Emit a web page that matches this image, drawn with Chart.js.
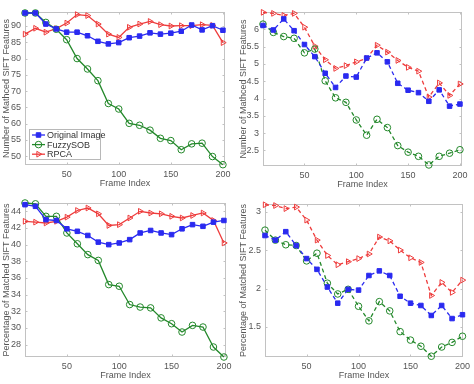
<!DOCTYPE html>
<html>
<head>
<meta charset="utf-8">
<script src="https://cdn.jsdelivr.net/npm/chart.js@4/dist/chart.umd.min.js"></script>
<style>
  body { margin: 0; background: #fff; width: 474px; height: 384px; overflow: hidden; position: relative; }
  .cell { position: absolute; width: 237px; height: 192px; }
</style>
</head>
<body>
<div class="cell" style="left:0;top:0"><canvas id="tl" width="237" height="192"></canvas></div>
<div class="cell" style="left:237px;top:0"><canvas id="tr" width="237" height="192"></canvas></div>
<div class="cell" style="left:0;top:192px"><canvas id="bl" width="237" height="192"></canvas></div>
<div class="cell" style="left:237px;top:192px"><canvas id="br" width="237" height="192"></canvas></div>
<script>
const frames = [10, 20, 30, 40, 50, 60, 70, 80, 90, 100, 110, 120, 130, 140, 150, 160, 170, 180, 190, 200];
const xTicks = [50, 100, 150, 200];
const seriesNames = ['Original Image', 'FuzzySOB', 'RPCA'];

// top left: number of matched features
const countOrig = [94.0, 94.0, 90.6, 89.1, 88.1, 88.1, 87.0, 85.3, 84.5, 84.9, 86.4, 86.9, 87.9, 87.5, 87.8, 88.4, 90.3, 88.8, 90.1, 88.7];
const countFuzzy = [94.0, 94.0, 91.1, 89.0, 85.8, 80.0, 76.8, 73.2, 66.2, 64.5, 60.1, 59.5, 58.0, 55.5, 54.8, 52.0, 53.8, 54.0, 49.9, 47.4];
const countRpca = [87.5, 89.3, 88.1, 89.2, 90.9, 93.5, 93.2, 90.6, 87.5, 86.5, 89.6, 90.6, 91.4, 90.4, 90.0, 90.1, 90.1, 90.4, 90.2, 84.9];
const countTicks = [50, 55, 60, 65, 70, 75, 80, 85, 90];

// top right
const countOrigR = [6.11, 5.98, 6.30, 5.96, 5.56, 5.21, 4.73, 4.32, 4.65, 4.62, 5.17, 5.32, 5.06, 4.44, 4.24, 4.17, 3.92, 4.25, 3.78, 3.84];
const countFuzzyR = [6.15, 5.91, 5.79, 5.74, 5.32, 5.43, 4.51, 4.02, 3.89, 3.38, 2.94, 3.40, 3.16, 2.64, 2.45, 2.33, 2.08, 2.33, 2.42, 2.52];
const countRpcaR = [6.49, 6.46, 6.40, 6.46, 6.06, 5.51, 5.12, 4.87, 4.95, 5.06, 5.16, 5.54, 5.34, 5.10, 4.90, 4.79, 4.04, 4.45, 4.09, 4.42];
const countTicksR = [2.5, 3, 3.5, 4, 4.5, 5, 5.5, 6];

// bottom left: percentage of matched features
const pctOrig = [44.8, 44.6, 43.0, 42.9, 41.9, 41.6, 41.1, 40.3, 40.0, 40.2, 40.6, 41.4, 41.7, 41.4, 41.2, 41.9, 42.4, 42.2, 42.7, 42.9];
const pctFuzzy = [45.0, 44.9, 43.4, 43.4, 41.4, 40.1, 38.8, 38.1, 35.2, 35.0, 32.8, 32.5, 32.4, 31.2, 30.5, 29.5, 30.3, 30.1, 27.7, 26.5];
const pctRpca = [42.8, 42.7, 42.6, 42.8, 43.3, 44.1, 44.4, 43.7, 42.3, 42.4, 43.2, 44.0, 43.8, 43.7, 43.4, 43.2, 43.5, 43.8, 42.9, 40.2];
const pctTicks = [28, 30, 32, 34, 36, 38, 40, 42, 44];

// bottom right
const pctOrigR = [2.69, 2.63, 2.74, 2.56, 2.39, 2.25, 2.02, 1.81, 1.99, 1.98, 2.17, 2.23, 2.17, 1.90, 1.81, 1.78, 1.65, 1.78, 1.61, 1.66];
const pctFuzzyR = [2.76, 2.63, 2.57, 2.56, 2.36, 2.46, 2.07, 1.93, 1.99, 1.77, 1.58, 1.83, 1.71, 1.44, 1.33, 1.25, 1.12, 1.24, 1.30, 1.38];
const pctRpcaR = [3.09, 3.08, 3.04, 3.06, 2.89, 2.63, 2.43, 2.31, 2.35, 2.39, 2.45, 2.67, 2.62, 2.50, 2.40, 2.34, 1.91, 2.08, 1.95, 2.11];
const pctTicksR = [1.5, 2, 2.5, 3];

const BLUE = '#2a2af0', GREEN = '#23882a', RED = '#ee3c3c';
const TEXT = '#555';
const FONT = { family: '"Liberation Sans", Arial, sans-serif', size: 9 };

function makeSet(name, values, color, shape, dashed) {
    return {
        label: name,
        data: values.map((v, i) => ({ x: frames[i], y: v })),
        borderColor: color,
        backgroundColor: shape === 'rect' ? color : 'rgba(255,255,255,0)',
        pointStyle: shape,
        pointRotation: shape === 'triangle' ? 90 : 0,
        pointRadius: shape === 'rect' ? 3.2 : 3.3,
        pointBorderWidth: 1,
        borderWidth: 1.3,
        borderDash: dashed ? [4, 3] : [],
        tension: 0,
        clip: false
    };
}

// frame around the plot with small inward ticks
const boxPlugin = {
    id: 'box',
    beforeDatasetsDraw(chart) {
        const { ctx, chartArea: a, scales } = chart;
        const l = Math.round(a.left) + 0.5, r = Math.round(a.right) - 0.5;
        const t = Math.round(a.top) + 0.5, b = Math.round(a.bottom) - 0.5;
        ctx.save();
        ctx.strokeStyle = '#c2c2c2';
        ctx.lineWidth = 1;
        ctx.strokeRect(l, t, r - l, b - t);
        ctx.beginPath();
        scales.x.ticks.forEach(tk => {
            const px = Math.round(scales.x.getPixelForValue(tk.value)) + 0.5;
            ctx.moveTo(px, b); ctx.lineTo(px, b - 2);
            ctx.moveTo(px, t); ctx.lineTo(px, t + 2);
        });
        scales.y.ticks.forEach(tk => {
            const py = Math.round(scales.y.getPixelForValue(tk.value)) + 0.5;
            ctx.moveTo(l, py); ctx.lineTo(l + 2, py);
            ctx.moveTo(r, py); ctx.lineTo(r - 2, py);
        });
        ctx.stroke();
        ctx.restore();
    }
};

// legend box inside the top left plot
const legendPlugin = {
    id: 'boxLegend',
    afterDraw(chart, args, opts) {
        if (!opts.show) return;
        const ctx = chart.ctx;
        ctx.save();
        ctx.fillStyle = '#fff';
        ctx.strokeStyle = '#b8b8b8';
        ctx.lineWidth = 1;
        ctx.fillRect(29.5, 129.5, 71, 30);
        ctx.strokeRect(29.5, 129.5, 71, 30);
        chart.data.datasets.forEach((ds, i) => {
            const y = 135 + i * 9.6;
            ctx.strokeStyle = ds.borderColor;
            ctx.fillStyle = ds.backgroundColor;
            ctx.lineWidth = 1.3;
            ctx.setLineDash([]);
            ctx.beginPath();
            ctx.moveTo(32, y); ctx.lineTo(45, y);
            ctx.stroke();
            ctx.lineWidth = 1;
            Chart.helpers.drawPoint(ctx, {
                pointStyle: ds.pointStyle, rotation: ds.pointRotation,
                radius: ds.pointRadius, borderWidth: 1
            }, 38.5, y);
            ctx.fillStyle = '#333';
            ctx.font = '9px "Liberation Sans", Arial, sans-serif';
            ctx.textBaseline = 'middle';
            ctx.fillText(ds.label, 47, y + 0.5);
        });
        ctx.restore();
    }
};

function makePanel(id, vals, yTicks, yMin, yMax, yTitle, dashed, box, legend) {
    const xh = 24;
    new Chart(document.getElementById(id), {
        type: 'line',
        data: {
            datasets: [
                makeSet(seriesNames[0], vals[0], BLUE, 'rect', dashed),
                makeSet(seriesNames[1], vals[1], GREEN, 'circle', dashed),
                makeSet(seriesNames[2], vals[2], RED, 'triangle', dashed)
            ]
        },
        options: {
            responsive: false,
            animation: false,
            layout: { padding: { left: 1, top: box.top, right: 237 - box.right, bottom: 192 - box.bottom - xh } },
            plugins: {
                legend: { display: false },
                tooltip: { enabled: false },
                boxLegend: { show: legend }
            },
            scales: {
                x: {
                    type: 'linear',
                    min: 10,
                    max: box.xMax,
                    afterBuildTicks: s => { s.ticks = xTicks.map(v => ({ value: v })); },
                    afterFit: s => { s.height = xh; },
                    grid: { display: false, drawTicks: false },
                    border: { display: false },
                    ticks: { padding: 4, color: TEXT, font: FONT, maxRotation: 0, autoSkip: false, callback: v => String(v) },
                    title: { display: true, text: 'Frame Index', color: TEXT, font: FONT, padding: 0 }
                },
                y: {
                    type: 'linear',
                    min: yMin,
                    max: yMax,
                    afterBuildTicks: s => { s.ticks = yTicks.map(v => ({ value: v })); },
                    afterFit: s => { s.width = box.left - 1; },
                    grid: { display: false, drawTicks: false },
                    border: { display: false },
                    ticks: { padding: 4, color: TEXT, font: FONT, autoSkip: false, callback: v => String(v) },
                    title: { display: true, text: yTitle, color: TEXT, font: FONT, padding: 0 }
                }
            }
        },
        plugins: [boxPlugin, legendPlugin]
    });
}

makePanel('tl', [countOrig, countFuzzy, countRpca], countTicks, 47.3, 94.3,
    'Number of Mathced SIFT Features', false, { left: 25, right: 225, top: 12, bottom: 165, xMax: 202 }, true);
makePanel('tr', [countOrigR, countFuzzyR, countRpcaR], countTicksR, 2.05, 6.5,
    'Number of Mathced SIFT Features', true, { left: 26, right: 225, top: 12, bottom: 166, xMax: 202 }, false);
makePanel('bl', [pctOrig, pctFuzzy, pctRpca], pctTicks, 26.5, 45.0,
    'Percentage of Matched SIFT Features', false, { left: 25, right: 226, top: 11, bottom: 165, xMax: 202 }, false);
makePanel('br', [pctOrigR, pctFuzzyR, pctRpcaR], pctTicksR, 1.11, 3.1,
    'Percentage of Matched SIFT Features', true, { left: 28, right: 226, top: 12, bottom: 165, xMax: 200.5 }, false);
</script>
</body>
</html>
